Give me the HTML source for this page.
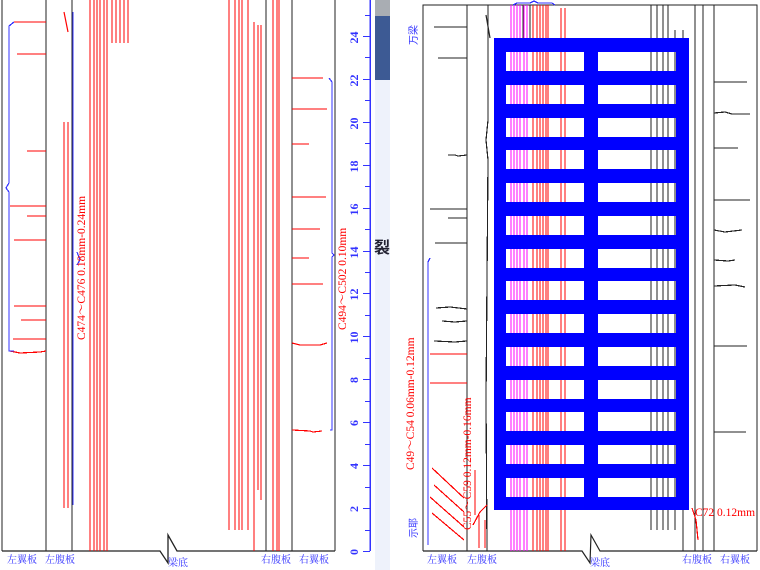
<!DOCTYPE html>
<html><head><meta charset="utf-8"><style>
body{margin:0;background:#fff;width:760px;height:570px;overflow:hidden}
svg{display:block}
text{font-family:"Liberation Serif","Noto Serif CJK SC",serif}
.cj{font-family:"Liberation Sans","Noto Sans CJK SC",sans-serif}
line,polyline{shape-rendering:crispEdges}
</style></head><body>
<svg width="760" height="570" viewBox="0 0 760 570" xmlns="http://www.w3.org/2000/svg">
<rect width="760" height="570" fill="#fff"/>
<!-- LEFT PANEL -->
<g stroke="#222" stroke-width="1.3" fill="none">
<line x1="2" y1="0" x2="2" y2="551"/><line x1="46" y1="0" x2="46" y2="551"/>
<line x1="72" y1="0" x2="72" y2="551"/><line x1="266" y1="0" x2="266" y2="551"/>
<line x1="292" y1="0" x2="292" y2="551"/><line x1="335" y1="0" x2="335" y2="551"/>
<polyline points="2,551 160,551 168,563 168,535 177,551 335,551" style="shape-rendering:auto"/>
</g>
<g stroke="#f00" stroke-width="1.2" fill="none">
<line x1="14" y1="22" x2="46" y2="22"/><line x1="17" y1="54" x2="46" y2="54"/>
<line x1="27" y1="151" x2="46" y2="151"/><line x1="10" y1="206" x2="46" y2="206"/>
<line x1="27" y1="216" x2="46" y2="216"/><line x1="14" y1="240" x2="46" y2="240"/>
<line x1="14" y1="306" x2="46" y2="306"/><line x1="21" y1="320" x2="46" y2="320"/>
<line x1="13" y1="339" x2="46" y2="339"/><polyline points="10,351 20,353 40,352 46,351"/>
<line x1="292" y1="78" x2="323" y2="78"/><line x1="292" y1="109" x2="327" y2="109"/>
<line x1="292" y1="144" x2="309" y2="144"/><line x1="292" y1="197" x2="326" y2="197"/>
<line x1="292" y1="229" x2="320" y2="229"/><line x1="292" y1="258" x2="309" y2="258"/>
<line x1="292" y1="284" x2="323" y2="284"/><polyline points="292,343 300,345 320,345 327,343"/>
<polyline points="292,430 310,431 313,432 322,431"/>
<line x1="64" y1="122" x2="64" y2="508"/><line x1="68" y1="122" x2="68" y2="508"/>
<line x1="64" y1="12" x2="68" y2="32" style="shape-rendering:auto"/>
<line x1="90" y1="0" x2="90" y2="551"/><line x1="94" y1="0" x2="94" y2="551"/>
<line x1="97" y1="0" x2="97" y2="551"/><line x1="100" y1="0" x2="100" y2="551"/>
<line x1="104" y1="0" x2="104" y2="551"/><line x1="107" y1="0" x2="107" y2="551"/>
<line x1="112" y1="0" x2="112" y2="43"/><line x1="116" y1="0" x2="116" y2="43"/>
<line x1="120" y1="0" x2="120" y2="43"/><line x1="124" y1="0" x2="124" y2="43"/>
<line x1="128" y1="0" x2="128" y2="43"/>
<line x1="229" y1="0" x2="229" y2="530"/><line x1="235" y1="0" x2="235" y2="530"/>
<line x1="239" y1="0" x2="239" y2="530"/><line x1="242" y1="0" x2="242" y2="530"/>
<line x1="248" y1="0" x2="248" y2="530"/><line x1="254" y1="22" x2="254" y2="551"/>
<line x1="258" y1="25" x2="258" y2="490"/><line x1="261" y1="25" x2="261" y2="500"/>
<line x1="273" y1="0" x2="273" y2="551"/><line x1="277" y1="0" x2="277" y2="551"/>
<line x1="279" y1="0" x2="279" y2="551"/>
</g>
<g stroke="#33f" stroke-width="1.2" fill="none">
<polyline points="14,22 9,26 9,183 6,188 9,192 9,351 14,351"/>
<line x1="73" y1="12" x2="73" y2="505"/>
<polyline points="77,252 80,260 77,265"/>
<polyline points="329,78 332,82 332,253 334,255 332,257 332,430 330,430"/>
</g>
<text transform="translate(85,340) rotate(-90)" fill="#f00" font-size="11.5">C474～C476  0.18mm-0.24mm</text>
<text transform="translate(346,330) rotate(-90)" fill="#f00" font-size="11.5">C494～C502  0.10mm</text>
<!-- axis -->
<g stroke="#33f" stroke-width="1.5">
<line x1="370" y1="0" x2="370" y2="551"/>
</g>
<g stroke="#33f" stroke-width="1.2" id="ticks"></g>
<g fill="#33f" font-size="12" font-weight="bold" id="tl"></g>
<rect x="375" y="0" width="15" height="570" fill="#eef2fb"/>
<rect x="375" y="0" width="15" height="16" fill="#a9adb3"/>
<rect x="375" y="16" width="15" height="64" fill="#3d5a94"/>
<text x="374" y="253" class="cj" font-size="16" font-weight="bold" fill="#223">裂</text>
<!-- RIGHT PANEL -->
<g stroke="#222" stroke-width="1.2" fill="none">
<polyline points="423,551 423,5 757,5 757,551"/>
<line x1="467" y1="5" x2="467" y2="551"/>
<polyline points="488,5 488,120 486,140 488,160 486,400 487,551"/>
<line x1="695" y1="5" x2="695" y2="551"/><line x1="703" y1="5" x2="703" y2="551"/>
<line x1="714" y1="5" x2="714" y2="551"/>
<polyline points="423,551 582,551 590,563 591,535 600,551 757,551" style="shape-rendering:auto"/>
<line x1="434" y1="27" x2="467" y2="27"/><line x1="438" y1="58" x2="467" y2="58"/>
<polyline points="448,155 455,155 458,156 467,155"/><line x1="430" y1="209" x2="467" y2="209"/>
<line x1="448" y1="218" x2="467" y2="218"/><line x1="435" y1="243" x2="467" y2="243"/>
<polyline points="436,308 450,307 467,309"/><polyline points="442,321 455,322 467,321"/>
<polyline points="434,341 455,342 467,341"/>
<line x1="714" y1="82" x2="747" y2="82"/><polyline points="714,113 725,112 732,114 750,114"/>
<line x1="714" y1="148" x2="738" y2="148"/><line x1="714" y1="200" x2="750" y2="200"/>
<polyline points="714,230 725,232 742,230"/><polyline points="714,260 728,261 735,260"/>
<polyline points="714,286 735,285 745,287"/><line x1="714" y1="346" x2="747" y2="346"/>
<line x1="714" y1="432" x2="746" y2="432"/>
<line x1="651" y1="5" x2="651" y2="530"/><line x1="657" y1="5" x2="657" y2="530"/>
<line x1="663" y1="5" x2="663" y2="530"/><line x1="668" y1="5" x2="668" y2="530"/>
<line x1="675" y1="30" x2="675" y2="530"/><line x1="683" y1="30" x2="683" y2="551"/>
<line x1="523" y1="5" x2="523" y2="40"/><line x1="530" y1="5" x2="530" y2="40"/>
<line x1="486" y1="15" x2="490" y2="38" style="shape-rendering:auto"/>
</g>
<g stroke="#f0f" stroke-width="1.2">
<line x1="511" y1="5" x2="511" y2="551"/><line x1="514" y1="5" x2="514" y2="551"/>
<line x1="517" y1="5" x2="517" y2="551"/><line x1="520" y1="5" x2="520" y2="551"/>
<line x1="524" y1="5" x2="524" y2="551"/><line x1="527" y1="5" x2="527" y2="551"/>
</g>
<g stroke="#f00" stroke-width="1.2" fill="none">
<line x1="533" y1="5" x2="533" y2="551"/><line x1="537" y1="5" x2="537" y2="551"/>
<line x1="540" y1="5" x2="540" y2="551"/><line x1="543" y1="5" x2="543" y2="551"/>
<line x1="546" y1="5" x2="546" y2="551"/><line x1="548" y1="5" x2="548" y2="551"/>
<line x1="561" y1="8" x2="561" y2="551"/><line x1="565" y1="8" x2="565" y2="551"/>
<line x1="430" y1="354" x2="467" y2="354"/><line x1="430" y1="383" x2="467" y2="383"/>
<g style="shape-rendering:auto">
<line x1="432" y1="468" x2="464" y2="498"/><line x1="434" y1="485" x2="464" y2="512"/>
<line x1="430" y1="497" x2="464" y2="527"/><line x1="432" y1="513" x2="464" y2="540"/>
<polyline points="473,525 480,512 487,505"/>
<polyline points="692,508 696,520 698,540"/>
</g>
<line x1="479" y1="515" x2="479" y2="548"/>
<line x1="485" y1="520" x2="485" y2="548"/><line x1="475" y1="470" x2="475" y2="515"/>
</g>
<g stroke="#33f" stroke-width="1.2" fill="none">
<polyline points="430,258 428,262 428,545"/>
<polyline points="513,5 517,3 530,3 534,1 538,3 552,3 555,5"/>
</g>
<!-- blue grid -->
<path fill="#0000ff" fill-rule="evenodd" id="grid" d="M494,38H689V510H494Z"/>
<text transform="translate(414,470) rotate(-90)" fill="#f00" font-size="11.5">C49～C54  0.06mm-0.12mm</text>
<text transform="translate(471,530) rotate(-90)" fill="#f00" font-size="11.5">C55～C59  0.12mm-0.16mm</text>
<text x="695" y="516" fill="#f00" font-size="11.5">C72  0.12mm</text>
<text transform="translate(417,45) rotate(-90)" class="cj" fill="#33f" font-size="10">万梁</text>
<text transform="translate(417,538) rotate(-90)" class="cj" fill="#33f" font-size="10">示耶</text>
<g class="cj" fill="#33f" font-size="10">
<text x="7" y="563">左翼板</text><text x="45" y="563">左腹板</text><text x="168" y="566">梁底</text>
<text x="261" y="563">右腹板</text><text x="299" y="563">右翼板</text>
<text x="427" y="563">左翼板</text><text x="467" y="563">左腹板</text><text x="590" y="566">梁底</text>
<text x="682" y="563">右腹板</text><text x="720" y="563">右翼板</text>
</g>
</svg>
<script>
(function(){var ns="http://www.w3.org/2000/svg";
var t=document.getElementById("ticks"),l=document.getElementById("tl");
for(var v=0;v<=26;v++){var y=Math.round(551-v*21.46)+0.5;var e=document.createElementNS(ns,"line");
e.setAttribute("x1",v%2?365:363);e.setAttribute("x2",370);e.setAttribute("y1",y);e.setAttribute("y2",y);t.appendChild(e);
if(v%2==0){var tx=document.createElementNS(ns,"text");tx.setAttribute("transform","translate(358,"+(y+(v>=10?7:3.5))+") rotate(-90)");tx.textContent=v;l.appendChild(tx);}}
var g=document.getElementById("grid"),d="M494,38H689V510H494Z";
for(var i=0;i<14;i++){var y=Math.round(52+i*32.77);d+="M506,"+y+"V"+(y+19)+"H584V"+y+"Z";d+="M598,"+y+"V"+(y+19)+"H676V"+y+"Z";}
g.setAttribute("d",d);})();
</script>
</body></html>
